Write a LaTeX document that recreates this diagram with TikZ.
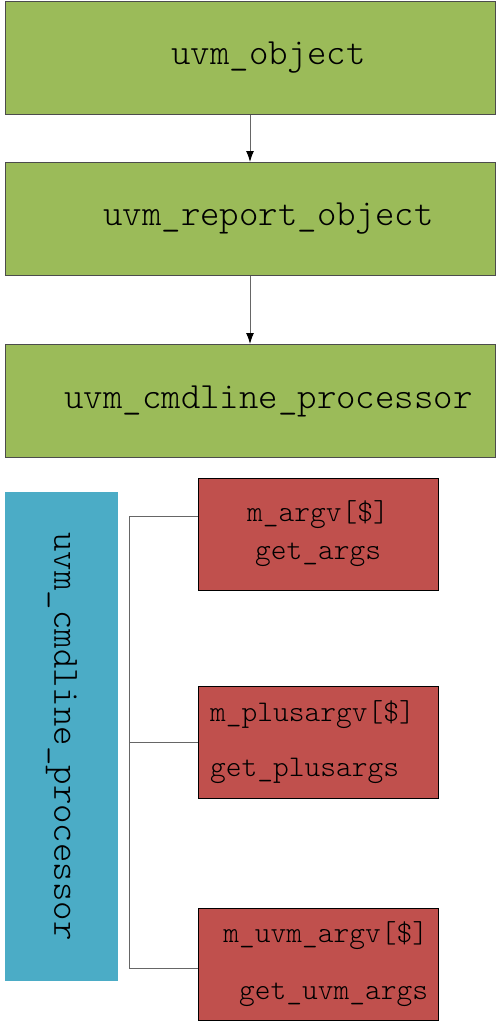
\documentclass[tikz,border=0pt]{standalone}
\usepackage{fontspec}
\setmonofont{Latin Modern Mono Light}
\usepackage{tikz}
\usetikzlibrary{arrows.meta,positioning}
\definecolor{classgreen}{HTML}{9BBB59}
\definecolor{memberred}{HTML}{C0504D}
\definecolor{titleblue}{HTML}{4BACC6}
\begin{document}
\begin{tikzpicture}[x=1pt,y=-1pt,>={Latex[black,length=11pt,width=8pt]},node distance=47pt]
  \tikzstyle{class}=[rectangle,fill=classgreen,draw=black!70,line width=1pt,
                     minimum width=490pt,minimum height=113pt,inner sep=0pt,
                     font=\fontsize{37}{44}\selectfont\ttfamily]
  \tikzstyle{member}=[rectangle,fill=memberred,draw=black,line width=1pt,
                      minimum width=240pt,minimum height=112pt,inner sep=0pt,
                      font=\fontsize{30}{36}\selectfont\ttfamily]
  \tikzstyle{wire}=[draw=black!60,line width=1pt]
  \useasboundingbox (0,0) rectangle (500,1021);

  \node[class] (obj) at (250,58)        {\quad uvm\_object};
  \node[class] (rep) [below=of obj]     {\quad uvm\_report\_object};
  \node[class] (cmd) [below=68pt of rep] {\quad uvm\_cmdline\_processor};

  \node[rectangle,fill=titleblue,rotate=-90,minimum width=489pt,minimum height=113pt,
        inner sep=0pt,font=\fontsize{37}{44}\selectfont\ttfamily]
        (title) at (61.5,736.5) {uvm\_cmdline\_processor};

  \node[member,align=center] (argv) at (318,534) {m\_argv[\$]\\[2pt]get\_args};
  \node[member,align=left,text width=216pt,inner xsep=12pt] (plus) [below=95pt of argv]
        {m\_plusargv[\$]\\[19pt]get\_plusargs};
  \node[member,align=right,text width=220pt,inner xsep=10pt] (uvmargv) [below=109pt of plus]
        {m\_uvm\_argv[\$]\\[21pt]get\_uvm\_args};

  \path[draw=black!60,line width=1pt,->] (obj) edge (rep)
        (rep) edge (cmd);

  \draw[wire] ([yshift=18pt]argv.west) -- ++(-68,0) |- ([yshift=-4pt]uvmargv.west);
  \draw[wire] (plus.west) -- ++(-68,0);
\end{tikzpicture}
\end{document}
